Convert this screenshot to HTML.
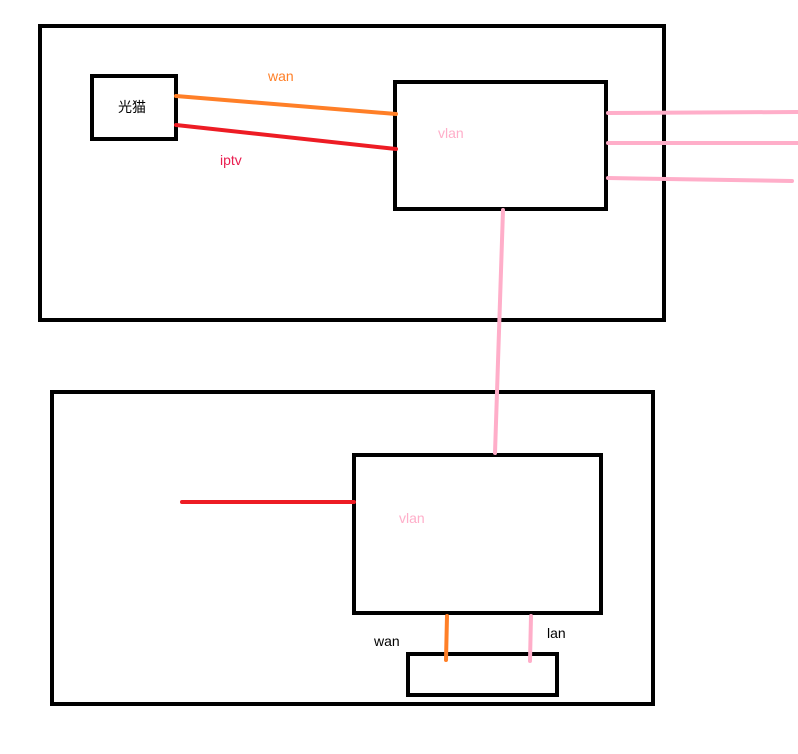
<!DOCTYPE html>
<html><head><meta charset="utf-8"><style>
html,body{margin:0;padding:0;background:#fff;width:798px;height:754px;overflow:hidden}
svg{display:block}
text{font-family:"Liberation Sans","Noto Sans CJK SC",sans-serif;font-size:14px}
</style></head><body>
<svg width="798" height="754" xmlns="http://www.w3.org/2000/svg">
<g fill="none" stroke="#000" stroke-width="4">
<rect x="40" y="26" width="624" height="294"/>
<rect x="92" y="76" width="84" height="63"/>
<rect x="395" y="82" width="211" height="127"/>
<rect x="52" y="392" width="601" height="312"/>
<rect x="354" y="455" width="247" height="158"/>
<rect x="408" y="654" width="149" height="41"/>
</g>
<g fill="none" stroke-width="4" stroke-linecap="round">
<line x1="176" y1="96" x2="396" y2="114" stroke="#ff7f27"/>
<line x1="176" y1="125" x2="396" y2="149" stroke="#ed1c24"/>
<line x1="608" y1="113" x2="798" y2="112" stroke="#ffaec9"/>
<line x1="608" y1="143" x2="798" y2="143" stroke="#ffaec9"/>
<line x1="608" y1="178" x2="792" y2="181" stroke="#ffaec9"/>
<line x1="503" y1="210" x2="495" y2="453" stroke="#ffaec9"/>
<line x1="182" y1="502" x2="354" y2="502" stroke="#ed1c24"/>
<line x1="447" y1="616" x2="446" y2="660" stroke="#ff7f27"/>
<line x1="531" y1="616" x2="530" y2="661" stroke="#ffaec9"/>
</g>
<text x="118" y="112" fill="#000">光猫</text>
<text x="268" y="81" fill="#ff7f27">wan</text>
<text x="220" y="165" fill="#e91e4f">iptv</text>
<text x="438" y="138" fill="#ffaec9">vlan</text>
<text x="399" y="523" fill="#ffaec9">vlan</text>
<text x="374" y="646" fill="#000">wan</text>
<text x="547" y="638" fill="#000">lan</text>
</svg>
</body></html>
